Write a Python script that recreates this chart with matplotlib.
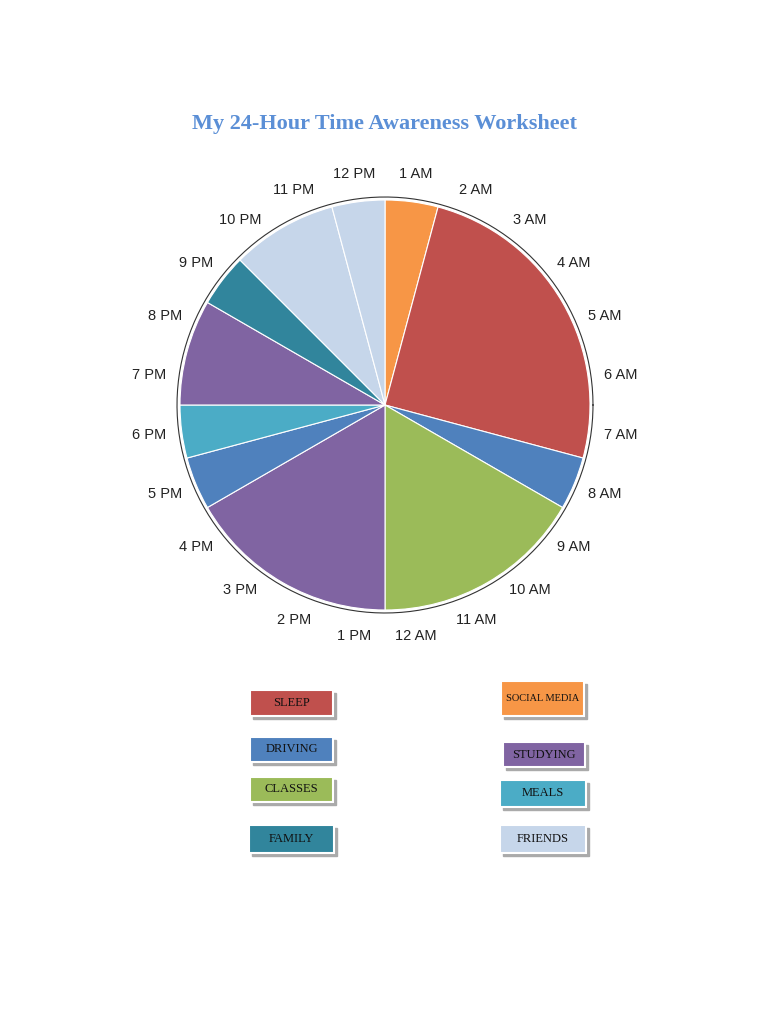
import numpy as np
import matplotlib.pyplot as plt
from matplotlib.patches import Rectangle

# activity slices, clockwise from midnight (top)
activities = ['SOCIAL MEDIA', 'SLEEP', 'DRIVING', 'CLASSES', 'STUDYING', 'DRIVING',
              'MEALS', 'STUDYING', 'FAMILY', 'FRIENDS', 'FRIENDS']
hours = [1, 6, 1, 4, 4, 1, 1, 2, 1, 2, 1]
colors = {'SLEEP': '#C0504D', 'SOCIAL MEDIA': '#F79646', 'DRIVING': '#4F81BD',
          'STUDYING': '#8064A2', 'CLASSES': '#9BBB59', 'MEALS': '#4BACC6',
          'FAMILY': '#31859C', 'FRIENDS': '#C6D6EA'}
hour_labels = ['1 AM', '2 AM', '3 AM', '4 AM', '5 AM', '6 AM', '7 AM', '8 AM',
               '9 AM', '10 AM', '11 AM', '12 AM', '1 PM', '2 PM', '3 PM', '4 PM',
               '5 PM', '6 PM', '7 PM', '8 PM', '9 PM', '10 PM', '11 PM', '12 PM']
legend_items = ['SLEEP', 'SOCIAL MEDIA', 'DRIVING', 'STUDYING',
                'CLASSES', 'MEALS', 'FAMILY', 'FRIENDS']

W, H = 768, 1024
fig = plt.figure(figsize=(7.68, 10.24), dpi=100)
ax = fig.add_axes([0, 0, 1, 1])
ax.set_xlim(0, W)
ax.set_ylim(0, H)
ax.set_aspect('equal')
ax.axis('off')

cx, cy, r = 385, H - 405, 205
ax.pie(hours, colors=[colors[a] for a in activities], center=(cx, cy), radius=r,
       startangle=90, counterclock=False, frame=True,
       wedgeprops=dict(edgecolor='white', linewidth=0.8))
ax.set_xlim(0, W)
ax.set_ylim(0, H)
ax.axis('off')

# outline ring
t = np.linspace(0, 2 * np.pi, 300)
ax.plot(cx + (r + 3) * np.cos(t), cy + (r + 3) * np.sin(t), color='#333333', lw=0.8)

for i, lab in enumerate(hour_labels):
    a = np.deg2rad(90 - (i + 0.5) * 15)
    ax.text(cx + (r + 33) * np.cos(a), cy + (r + 28) * np.sin(a), lab,
            ha='center', va='center', fontsize=10.5, family='Liberation Sans',
            color='#222222')

ax.text(384, H - 124, 'My 24-Hour Time Awareness Worksheet', ha='center', va='center',
        fontsize=16, fontweight='bold', family='Liberation Serif', color='#5B8FD6')

boxes = [(250, 690, 83, 26), (501, 681, 83, 35), (250, 737, 83, 25), (503, 742, 82, 25),
         (250, 777, 83, 25), (500, 780, 86, 27), (249, 825, 85, 28), (500, 825, 86, 28)]
for name, (x, y, w, h) in zip(legend_items, boxes):
    ax.add_patch(Rectangle((x + 3, H - y - h - 3), w, h, color='#AAAAAA', zorder=2))
    ax.add_patch(Rectangle((x, H - y - h), w, h, facecolor=colors[name],
                           edgecolor='white', lw=1.5, zorder=3))
    fs = 7.5 if name == 'SOCIAL MEDIA' else 9
    ax.text(x + w / 2, H - y - h / 2, name, ha='center', va='center', fontsize=fs,
            family='Liberation Serif', color='#111111', zorder=4)

fig.savefig('out.png', dpi=100)
